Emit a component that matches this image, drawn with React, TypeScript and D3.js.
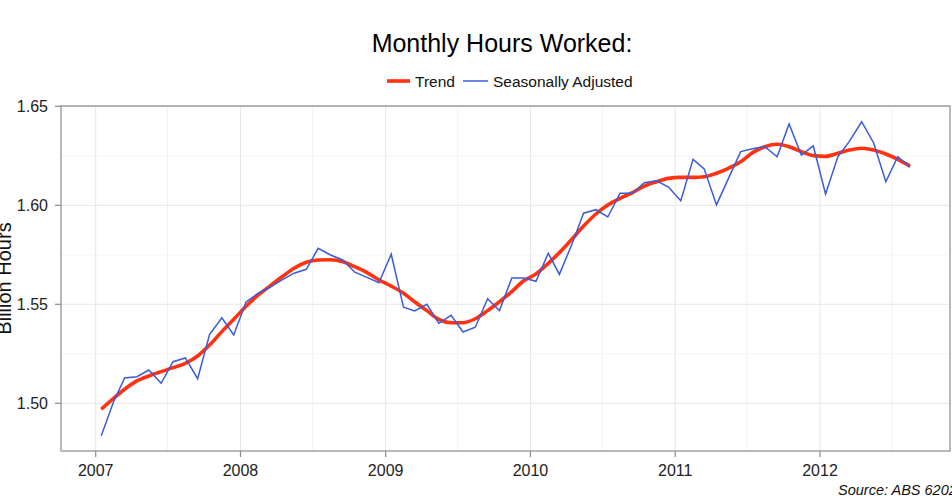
import React from "react";
import * as d3 from "d3";

const TITLE = "Monthly Hours Worked:";
const SERIES_NAMES = ["Trend", "Seasonally Adjusted"];
const START_YEAR = 2007;
const START_MONTH = 0; // January
const Y_TICKS = [1.5, 1.55, 1.6, 1.65];
const X_TICK_YEARS = [2007, 2008, 2009, 2010, 2011, 2012];

// Seasonally adjusted, billion hours, monthly Jan 2007 - Aug 2012
const seasonallyAdjusted = [
  1.4836, 1.5008, 1.5128, 1.5134, 1.5168, 1.5101, 1.521, 1.5229, 1.5124, 1.5347, 1.5432, 1.5345,
  1.5512, 1.5556, 1.5586, 1.5623, 1.5657, 1.5677, 1.5783, 1.5749, 1.5724, 1.5662, 1.5636, 1.5609,
  1.5753, 1.5485, 1.5466, 1.55, 1.5404, 1.5444, 1.536, 1.5384, 1.5528, 1.5468, 1.5633, 1.5633,
  1.5616, 1.5758, 1.5651, 1.5801, 1.596, 1.5978, 1.5941, 1.6061, 1.6061, 1.6114, 1.6124, 1.6092,
  1.6023, 1.6232, 1.6184, 1.6002, 1.6135, 1.6271, 1.6286, 1.6296, 1.6245, 1.6411, 1.6254, 1.63,
  1.6057, 1.6245, 1.6323, 1.6422, 1.6316, 1.6119, 1.6245, 1.6192,
];

// Trend, billion hours
const trend = [
  1.497, 1.5025, 1.5071, 1.5113, 1.5138, 1.516, 1.518, 1.5202, 1.5239, 1.5294, 1.5362, 1.5424,
  1.549, 1.5547, 1.5592, 1.5639, 1.5682, 1.5712, 1.5724, 1.5725, 1.5715, 1.569, 1.566, 1.5623,
  1.5592, 1.5556, 1.5513, 1.5468, 1.5424, 1.5407, 1.5407, 1.5427, 1.5468, 1.5513, 1.5564, 1.5619,
  1.5653, 1.5707, 1.5761, 1.5828, 1.5895, 1.5956, 1.6001, 1.6035, 1.6064, 1.6097, 1.6119, 1.6136,
  1.6141, 1.6141, 1.6144, 1.6162, 1.6187, 1.622, 1.6266, 1.6296, 1.6308, 1.6296, 1.6271, 1.6251,
  1.6247, 1.6263, 1.6279, 1.6288, 1.6279, 1.6259, 1.6232, 1.6198,
];

const TREND_COLOR = "#ff3311";
const SA_COLOR = "#3b5bdb";
const FONT = "'Liberation Sans', Arial, Helvetica, sans-serif";

export default function App() {
  const W = 952;
  const H = 500;
  const panel = { left: 61, right: 950, top: 106, bottom: 451 };

  const x = d3
    .scaleTime()
    .domain([new Date(2007, 0, 1), new Date(2012, 0, 1)])
    .range([95.7, 820]);
  const y = d3.scaleLinear().domain([1.5, 1.65]).range([403.3, 106.3]);

  const dateOf = (i: number) => new Date(START_YEAR, START_MONTH + i, 15);

  const saData = seasonallyAdjusted.map((v, i) => ({ d: dateOf(i), v }));
  const trData = trend.map((v, i) => ({ d: dateOf(i), v }));

  const line = d3
    .line<{ d: Date; v: number }>()
    .x((p) => x(p.d))
    .y((p) => y(p.v));
  const trendLine = d3
    .line<{ d: Date; v: number }>()
    .x((p) => x(p.d))
    .y((p) => y(p.v))
    .curve(d3.curveMonotoneX);

  const majorX = X_TICK_YEARS.map((yr) => new Date(yr, 0, 1));
  const minorX = X_TICK_YEARS.map((yr) => new Date(yr, 6, 1)).filter(
    (d) => x(d) > panel.left && x(d) < panel.right
  );
  const minorY = [1.525, 1.575, 1.625];

  return (
    <div style={{ position: "absolute", left: 0, top: 0 }}>
      <svg width={W} height={H} style={{ display: "block", fontFamily: FONT }}>
        <rect x={0} y={0} width={W} height={H} fill="#ffffff" />
        {/* minor grid */}
        {minorX.map((d, i) => (
          <line key={"mx" + i} x1={x(d)} x2={x(d)} y1={panel.top} y2={panel.bottom} stroke="#f3f3f3" strokeWidth={1} />
        ))}
        {minorY.map((v, i) => (
          <line key={"my" + i} x1={panel.left} x2={panel.right} y1={y(v)} y2={y(v)} stroke="#f3f3f3" strokeWidth={1} />
        ))}
        {/* major grid */}
        {majorX.map((d, i) => (
          <line key={"gx" + i} x1={x(d)} x2={x(d)} y1={panel.top} y2={panel.bottom} stroke="#e6e6e6" strokeWidth={1} />
        ))}
        {Y_TICKS.map((v, i) => (
          <line key={"gy" + i} x1={panel.left} x2={panel.right} y1={y(v)} y2={y(v)} stroke="#e6e6e6" strokeWidth={1} />
        ))}
        {/* series */}
        <path d={trendLine(trData) || ""} fill="none" stroke={TREND_COLOR} strokeWidth={3.6} strokeLinejoin="round" strokeLinecap="butt" />
        <path d={line(saData) || ""} fill="none" stroke={SA_COLOR} strokeWidth={1.5} strokeLinejoin="miter" />
        {/* panel border */}
        <rect
          x={panel.left}
          y={panel.top}
          width={panel.right - panel.left}
          height={panel.bottom - panel.top}
          fill="none"
          stroke="#8a8a8a"
          strokeWidth={1.2}
        />
        {/* y ticks */}
        {Y_TICKS.map((v, i) => (
          <g key={"yt" + i}>
            <line x1={panel.left - 6} x2={panel.left} y1={y(v)} y2={y(v)} stroke="#8a8a8a" strokeWidth={1.2} />
            <text x={48} y={y(v)} dy="0.36em" textAnchor="end" fontSize={16} fill="#222">
              {d3.format(".2f")(v)}
            </text>
          </g>
        ))}
        {/* x ticks */}
        {majorX.map((d, i) => (
          <g key={"xt" + i}>
            <line x1={x(d)} x2={x(d)} y1={panel.bottom} y2={panel.bottom + 6} stroke="#8a8a8a" strokeWidth={1.2} />
            <text x={x(d)} y={476} textAnchor="middle" fontSize={16} fill="#222">
              {d3.timeFormat("%Y")(d)}
            </text>
          </g>
        ))}
        {/* y title */}
        <text
          transform={`translate(${10.5},${(panel.top + panel.bottom) / 2}) rotate(-90)`}
          textAnchor="middle"
          fontSize={20}
          fill="#111"
        >
          Billion Hours
        </text>
        {/* title */}
        <text x={502} y={52} textAnchor="middle" fontSize={25} fill="#000">
          {TITLE}
        </text>
        {/* legend */}
        <line x1={387} x2={410} y1={81} y2={81} stroke={TREND_COLOR} strokeWidth={3.6} />
        <text x={415} y={81} dy="0.36em" fontSize={15.5} fill="#111">
          {SERIES_NAMES[0]}
        </text>
        <line x1={463} x2={488} y1={81} y2={81} stroke={SA_COLOR} strokeWidth={1.5} />
        <text x={493} y={81} dy="0.36em" fontSize={15.5} fill="#111">
          {SERIES_NAMES[1]}
        </text>
        {/* source */}
        <text x={838} y={495} fontSize={14.5} fontStyle="italic" fill="#111">
          Source: ABS 6202.0
        </text>
      </svg>
    </div>
  );
}
